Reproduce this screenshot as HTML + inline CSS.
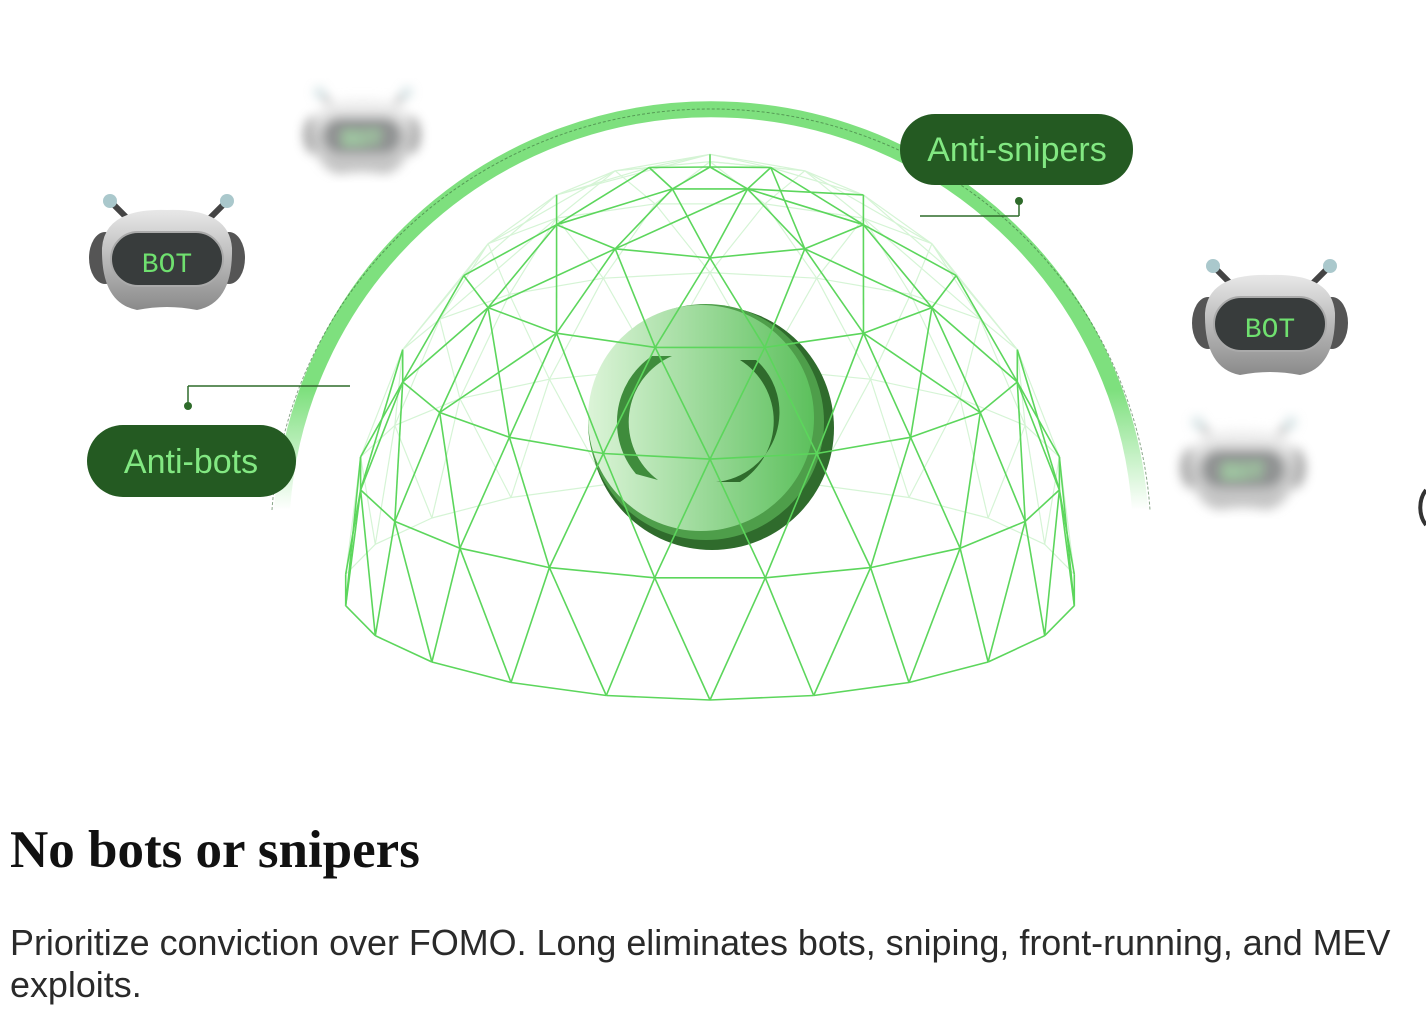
<!DOCTYPE html>
<html><head><meta charset="utf-8"><style>
body{margin:0;width:1426px;height:1024px;background:#fff;overflow:hidden;position:relative;font-family:"Liberation Sans",sans-serif}
h1{position:absolute;left:10px;top:820px;margin:0;font-family:"Liberation Serif",serif;font-size:53px;font-weight:bold;color:#111}
p{position:absolute;left:10px;top:922px;margin:0;width:1414px;font-size:35.9px;line-height:42px;color:#2a2a2a;font-weight:300}
</style></head><body>
<svg width="1426" height="800" style="position:absolute;left:0;top:0">
<defs>
<linearGradient id="arcg" x1="0" y1="0" x2="0" y2="1"><stop offset="0" stop-color="#7ee07e"/><stop offset="0.7" stop-color="#7ee07e"/><stop offset="1" stop-color="#7ee07e" stop-opacity="0"/></linearGradient>
<linearGradient id="coin" x1="0" y1="0" x2="1" y2="0"><stop offset="0" stop-color="#dcf4d8"/><stop offset="1" stop-color="#5cc05c"/></linearGradient>
<filter id="bl"><feGaussianBlur stdDeviation="7"/></filter>
<linearGradient id="metal" x1="0" y1="0" x2="0" y2="1"><stop offset="0" stop-color="#e8e8e8"/><stop offset="1" stop-color="#8a8a8a"/></linearGradient>
</defs>
<path d="M 282 510 A 430 430 0 0 1 1140 510" fill="none" stroke="url(#arcg)" stroke-width="16"/>
<path d="M 272 510 A 440 430 0 0 1 1150 510" fill="none" stroke="#3a6a3a" stroke-width="1" stroke-dasharray="3 2" opacity="0.6"/>
<g id="back" stroke="#5cd65c" stroke-width="1.2" fill="none" opacity="0.25"></g>
<circle cx="712" cy="428" r="122" fill="#2f6b2c"/>
<circle cx="706" cy="422" r="118" fill="#4e9e4a"/>
<circle cx="701" cy="418" r="113" fill="url(#coin)"/>
<path d="M672 356 A72 72 0 0 0 658 480 L636 474 A80 80 0 0 1 652 356 Z" fill="#3f8c3c"/>
<path d="M740 360 A72 72 0 0 1 740 482 L716 482 A70 70 0 0 0 756 360 Z" fill="#2f6b2c"/>
<g id="front" stroke="#5cd65c" stroke-width="1.6" fill="none"></g>
<line x1="188" y1="406" x2="188" y2="386" stroke="#2e6b2a" stroke-width="1.5"/><line x1="188" y1="386" x2="350" y2="386" stroke="#2e6b2a" stroke-width="1.5"/><circle cx="188" cy="406" r="4" fill="#2e6b2a"/>
<line x1="1019" y1="201" x2="1019" y2="216" stroke="#2e6b2a" stroke-width="1.5"/><line x1="1019" y1="216" x2="920" y2="216" stroke="#2e6b2a" stroke-width="1.5"/><circle cx="1019" cy="201" r="4" fill="#2e6b2a"/>
<rect x="87" y="425" width="209" height="72" rx="36" fill="#245a22"/>
<text x="191" y="473" text-anchor="middle" font-size="34" fill="#82e882" font-family="Liberation Sans,sans-serif">Anti-bots</text>
<rect x="900" y="114" width="233" height="71" rx="35" fill="#245a22"/>
<text x="1017" y="161" text-anchor="middle" font-size="34" fill="#82e882" font-family="Liberation Sans,sans-serif">Anti-snipers</text>
<g id="bot1" transform="translate(167,258)">
<line x1="-55" y1="-55" x2="-35" y2="-35" stroke="#444" stroke-width="6"/><line x1="58" y1="-55" x2="38" y2="-35" stroke="#444" stroke-width="6"/>
<circle cx="-57" cy="-57" r="7" fill="#aac8cc"/><circle cx="60" cy="-57" r="7" fill="#aac8cc"/>
<ellipse cx="-62" cy="0" rx="16" ry="26" fill="#555"/><ellipse cx="62" cy="0" rx="16" ry="26" fill="#555"/>
<path d="M-65 -10 Q-62 -50 0 -48 Q62 -50 65 -10 Q66 45 30 52 Q0 46 -30 52 Q-66 45 -65 -10Z" fill="url(#metal)"/>
<rect x="-56" y="-26" width="112" height="54" rx="27" fill="#383c3c" stroke="#aaa" stroke-width="2"/>
<text x="0" y="14" text-anchor="middle" font-size="28" fill="#6fe06f" font-family="Liberation Mono,monospace">BOT</text>
</g>
<use href="#bot1" transform="translate(1103,65)"/>
<use href="#bot1" transform="translate(362,135) scale(0.75) translate(-167,-258)" filter="url(#bl)" opacity="0.55"/>
<use href="#bot1" transform="translate(1243,468) scale(0.8) translate(-167,-258)" filter="url(#bl)" opacity="0.55"/>
<path d="M1426 490 A20 25 0 0 0 1426 525" fill="none" stroke="#333" stroke-width="4"/>
</svg>
<h1>No bots or snipers</h1>
<p>Prioritize conviction over FOMO. Long eliminates bots, sniping, front-running, and MEV exploits.</p>
<script>
(function(){
var cx=710,by=590,rx=368,ry=110,H=423;
var phis=[0,16,32,48,64,80,90],ns=[22,20,18,14,10,5,1];
var rings=[];
for(var i=0;i<phis.length;i++){var p=phis[i]*Math.PI/180,r=[];for(var k=0;k<ns[i];k++){var t=(k+(i%2?0.5:0))/ns[i]*2*Math.PI;
r.push({x:cx+rx*Math.cos(p)*Math.sin(t),y:by-H*Math.sin(p)+ry*Math.cos(p)*Math.cos(t),z:Math.cos(p)*Math.cos(t)+ (i==phis.length-1?1:0),t:t});}rings.push(r);}
var f='',b='';
function L(a,c){var s='<line x1="'+a.x.toFixed(1)+'" y1="'+a.y.toFixed(1)+'" x2="'+c.x.toFixed(1)+'" y2="'+c.y.toFixed(1)+'"/>';if((a.z+c.z)/2>-0.02)f+=s;else b+=s;}
for(var i=0;i<rings.length;i++){var r=rings[i];
if(r.length>1)for(var k=0;k<r.length;k++)L(r[k],r[(k+1)%r.length]);
if(i+1<rings.length){var u=rings[i+1];
for(var k=0;k<r.length;k++){var best=[];for(var j=0;j<u.length;j++){var d=Math.abs(((u[j].t-r[k].t+3*Math.PI)%(2*Math.PI))-Math.PI);best.push([d,j]);}
best.sort(function(a,c){return a[0]-c[0]});L(r[k],u[best[0][1]]);if(u.length>1)L(r[k],u[best[1][1]]);}}}
document.getElementById('front').innerHTML=f;document.getElementById('back').innerHTML=b;
})();
</script>
</body></html>
